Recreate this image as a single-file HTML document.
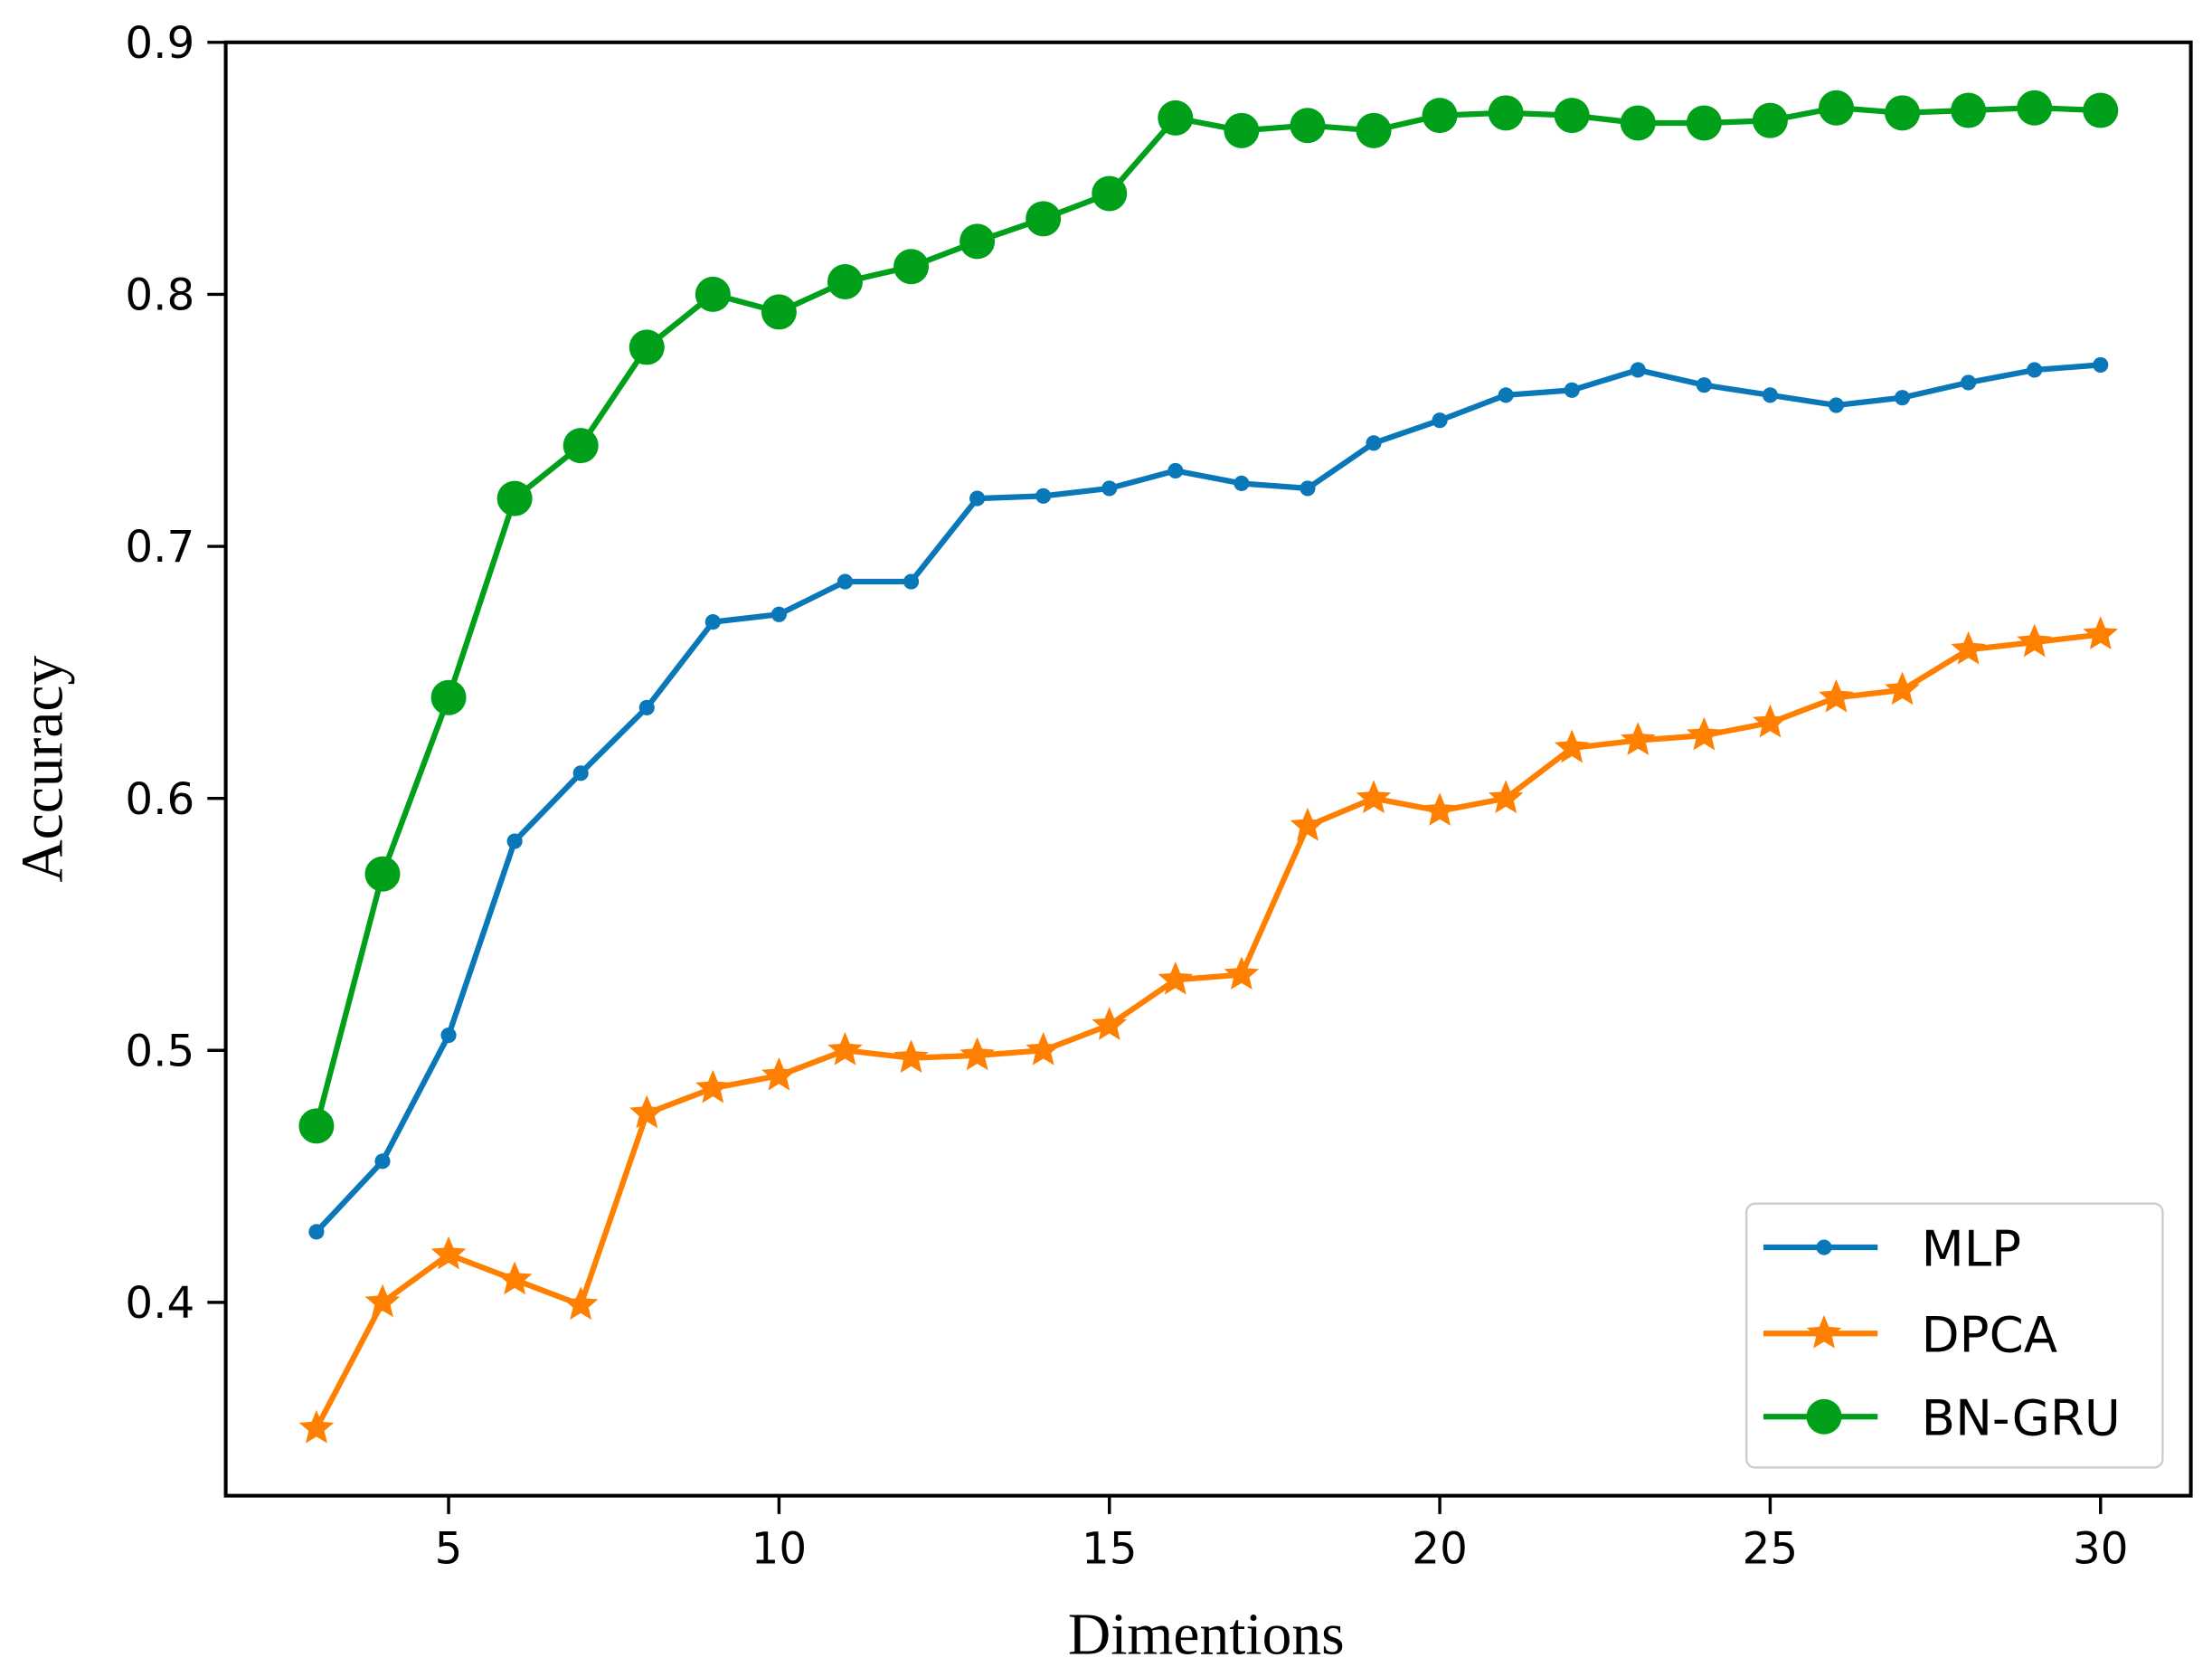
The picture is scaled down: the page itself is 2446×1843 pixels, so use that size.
<!DOCTYPE html>
<html><head><meta charset="utf-8"><style>
html,body{margin:0;padding:0;background:#fff;}
svg{display:block;}
</style></head><body>
<svg id="s" width="2446" height="1843" viewBox="0 0 1568 1181.4" preserveAspectRatio="none" xmlns="http://www.w3.org/2000/svg">
<rect width="1568" height="1182" fill="#fff"/>
<g id="plot"></g>
<rect x="160" y="30" width="1393" height="1030" fill="none" stroke="#000" stroke-width="2.6"/>
<g id="ticks" stroke="#000" stroke-width="2.2"></g>
<g font-family="DejaVu Sans, sans-serif" font-size="31" fill="#000" id="lbl"></g>
<text x="855" y="1172" font-family="Liberation Serif, serif" font-size="42" text-anchor="middle">Dimentions</text>
<text transform="translate(44,545) rotate(-90)" font-family="Liberation Serif, serif" font-size="42" text-anchor="middle">Accuracy</text>
<rect x="1238" y="853" width="295" height="187" rx="6" fill="#fff" fill-opacity="0.85" stroke="#ccc" stroke-width="1.5"/>
<line x1="1250" y1="884" x2="1331" y2="884" stroke="#0a78b8" stroke-width="4"/>
<circle cx="1293" cy="884" r="5.5" fill="#0a78b8"/>
<line x1="1250" y1="945" x2="1331" y2="945" stroke="#ff8000" stroke-width="4"/>
<line x1="1250" y1="1004" x2="1331" y2="1004" stroke="#00a01a" stroke-width="4"/>
<circle cx="1293" cy="1004" r="12.5" fill="#00a01a"/>
<g font-family="DejaVu Sans, sans-serif" font-size="35" fill="#000">
<text x="1362" y="897">MLP</text>
<text x="1362" y="958">DPCA</text>
<text x="1362" y="1017">BN-GRU</text>
</g>
<g id="legstar"></g>
</svg>
<script>
var NS="http://www.w3.org/2000/svg";
function X(v){return 318+(v-5)*46.84;}
function Y(v){return 30+(0.9-v)*1786;}
var mlp=[0.428,0.456,0.506,0.583,0.610,0.636,0.670,0.673,0.686,0.686,0.719,0.720,0.723,0.730,0.725,0.723,0.741,0.750,0.760,0.762,0.770,0.764,0.760,0.756,0.759,0.765,0.770,0.772];
var dp=[0.350,0.400,0.419,0.409,0.399,0.475,0.485,0.490,0.500,0.497,0.498,0.500,0.510,0.528,0.530,0.589,0.600,0.595,0.600,0.620,0.623,0.625,0.630,0.640,0.643,0.659,0.662,0.665];
var gru=[0.470,0.570,0.640,0.719,0.740,0.779,0.800,0.793,0.805,0.811,0.821,0.830,0.840,0.870,0.865,0.867,0.865,0.871,0.872,0.871,0.868,0.868,0.869,0.874,0.872,0.873,0.874,0.873];
var g=document.getElementById("plot");
function el(t,a,p){var e=document.createElementNS(NS,t);for(var k in a)e.setAttribute(k,a[k]);(p||g).appendChild(e);return e;}
function star(cx,cy,r,c,p){var pts=[];for(var i=0;i<10;i++){var rr=i%2?r*0.45:r;var a=-Math.PI/2+i*Math.PI/5;pts.push((cx+rr*Math.cos(a)).toFixed(1)+","+(cy+rr*Math.sin(a)).toFixed(1));}el("polygon",{points:pts.join(" "),fill:c},p);}
function series(d,c,m){var pts=d.map(function(v,i){return X(i+3).toFixed(1)+","+Y(v).toFixed(1)}).join(" ");
el("polyline",{points:pts,fill:"none",stroke:c,"stroke-width":4,"stroke-linejoin":"round"});
d.forEach(function(v,i){var x=X(i+3),y=Y(v);if(m=="o")el("circle",{cx:x,cy:y,r:5.5,fill:c});else if(m=="O")el("circle",{cx:x,cy:y,r:12.5,fill:c});else star(x,y,13,c);});}
series(mlp,"#0a78b8","o");series(dp,"#ff8000","*");series(gru,"#00a01a","O");
star(1293,945,13,"#ff8000",document.getElementById("legstar"));
var t=document.getElementById("ticks"),l=document.getElementById("lbl");
[5,10,15,20,25,30].forEach(function(v){el("line",{x1:X(v),x2:X(v),y1:1060,y2:1073},t);var tx=el("text",{x:X(v),y:1108,"text-anchor":"middle"},l);tx.textContent=v;});
[0.4,0.5,0.6,0.7,0.8,0.9].forEach(function(v){el("line",{x1:147,x2:160,y1:Y(v),y2:Y(v)},t);var tx=el("text",{x:138,y:Y(v)+11,"text-anchor":"end"},l);tx.textContent=v.toFixed(1);});
</script>
</body></html>
